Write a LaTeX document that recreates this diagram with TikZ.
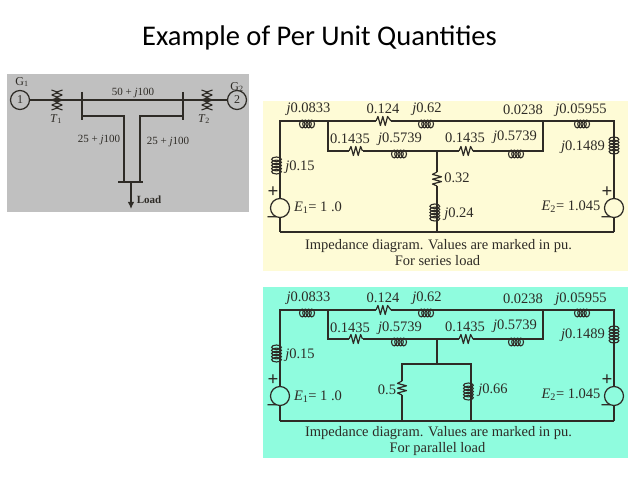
\documentclass[tikz,border=0pt]{standalone}
\usepackage{fontspec}
\setmainfont{Liberation Serif}
\newfontfamily\titlefont{Carlito}
\usetikzlibrary{arrows.meta}
\definecolor{paneyellow}{HTML}{FEFBD6}
\definecolor{paneteal}{HTML}{8FFCDE}
\definecolor{panegrey}{HTML}{C0C0C0}
\definecolor{ink}{HTML}{2E2B26}
\tikzset{
  wire/.style={draw=ink,line width=1.2pt},
  lab/.style={inner sep=0pt,text=ink,font=\fontsize{14.5}{16}\selectfont},
  smalllab/.style={inner sep=0pt,text=ink,font=\fontsize{11}{12}\selectfont},
  biglab/.style={inner sep=0pt,text=ink,font=\fontsize{12}{13}\selectfont},
  sign/.style={inner sep=0pt,text=ink,font=\fontsize{19}{20}\selectfont\bfseries},
  src/.style={circle,draw=ink,line width=1.25pt,minimum size=19pt,inner sep=0pt},
  gen/.style={circle,draw=ink,line width=1.25pt,minimum size=19pt,inner sep=0pt,text=ink,font=\fontsize{12}{13}\selectfont},
  busbar/.style={draw=ink,line width=1.8pt},
  % inductor: loops hung from the wire; the argument shifts the loops sideways
  pics/coilpart/.style={code={
    \draw[draw=ink,line width=1.1pt] (0,0) -- (16,0);
    \foreach \cx in {3.2,6.4,9.6,12.8}{
      \draw[draw=ink,line width=1.1pt] (\cx,#1) ellipse [x radius=2.7,y radius=3.9];
    }
  }},
  pics/coilupright/.style={code={
    \draw[draw=ink,line width=1.1pt] (0,0) -- (17,0);
    \foreach \cx in {2.3,5.4,8.5,11.6,14.7}{
      \draw[draw=ink,line width=1.1pt] (\cx,#1) ellipse [x radius=2.3,y radius=4.9];
    }
  }},
  pics/respart/.style={code={
    \draw[draw=ink,line width=1.2pt,line join=round] (0,0) -- (2,-4.5) -- (4.4,4.5) -- (6.8,-4.5) -- (9.2,4.5) -- (11.6,-4.5) -- (#1,0);
  }},
  pics/xfmr/.style={code={
    \foreach \s in {-1,1}{
      \draw[draw=ink,line width=1.1pt,rounded corners=0.8pt]
        (-5.5*\s,-10) -- (1.5*\s,-7.5) -- (-5.5*\s,-5) -- (1.5*\s,-2.5) -- (-5.5*\s,0) -- (1.5*\s,2.5) -- (-5.5*\s,5) -- (1.5*\s,7.5) -- (-5.5*\s,10);
    }
  }},
}
\newcommand{\cktlabel}[3]{\node[lab] (#1) at (#2) {#3};}
\begin{document}
\begin{tikzpicture}[x=1pt,y=-1pt]
\useasboundingbox (0,0) rectangle (638,478);
\node[inner sep=0pt,text=black,font=\titlefont\fontsize{28.5}{30}\selectfont] (title) at (319.5,38) {Example of Per Unit Quantities};

% ---------- one-line diagram ----------
\fill[panegrey] (7,74) rectangle (249,212);
\node[gen] (g1) at (20,100) {1};
\node[gen] (g2) at (237,100) {2};
\coordinate (t1c) at (57,100); \coordinate (t2c) at (207,100);
\coordinate (b1t) at (82,92); \coordinate (b1b) at (82,120);
\coordinate (b2t) at (183,92); \coordinate (b2b) at (183,120);
\coordinate (b1m) at (82,100); \coordinate (b2m) at (183,100);
\coordinate (b1l) at (82,116); \coordinate (b2l) at (183,116);
\coordinate (sl) at (124,116); \coordinate (sr) at (140,116);
\coordinate (ll) at (118,182); \coordinate (lr) at (143,182);
\coordinate (slb) at (124,182); \coordinate (srb) at (140,182);
\coordinate (lm) at (131,182); \coordinate (lend) at (131,209);
\draw[wire] (g1) -- (t1c);
\draw[wire] (g2) -- (t2c);
\draw[wire] (t1c) -- (b1m) -- (b2m) -- (t2c);
\pic at (t1c) {xfmr};
\pic at (t2c) {xfmr};
\draw[busbar] (b1t) -- (b1b);
\draw[busbar] (b2t) -- (b2b);
\draw[wire] (b1l) -- (sl) -- (slb);
\draw[wire] (b2l) -- (sr) -- (srb);
\draw[busbar,line width=2.2pt] (ll) -- (lr);
\draw[wire,-{Latex[length=7pt,width=6.5pt]}] (lm) -- (lend);
\node[biglab] (lg1) at (22,82) {G\textsubscript{1}};
\node[biglab] (lg2) at (237,87) {G\textsubscript{2}};
\node[biglab] (lt1) at (56,119) {\textit{T}\textsubscript{1}};
\node[biglab] (lt2) at (204,119) {\textit{T}\textsubscript{2}};
\node[smalllab] (l50) at (133,93) {50 + \textit{j}100};
\node[smalllab] (l25a) at (99,140) {25 + \textit{j}100};
\node[smalllab] (l25b) at (168,142) {25 + \textit{j}100};
\node[smalllab,font=\fontsize{11}{12}\selectfont\bfseries] (lload) at (149,200) {Load};

% ---------- series-load panel ----------
\fill[paneyellow] (263,101) rectangle (628,271);
\node[src] (e1) at (280,208) {};
\node[src] (e2) at (614,208) {};
\coordinate (atl) at (280,121); \coordinate (atr) at (614,121);
\coordinate (abl) at (280,232); \coordinate (abr) at (614,232);
\coordinate (ajl) at (328,121); \coordinate (ajr) at (543,121);
\coordinate (ail) at (328,151); \coordinate (air) at (543,151);
\coordinate (aic) at (437,151); \coordinate (abc) at (437,232);
\draw[wire] (abl) -- (abr);
\draw[wire] (e1) -- (abl); \draw[wire] (e2) -- (abr);
\draw[wire] (e1) -- (atl) -- (376,121);
\draw[wire] (391,121) -- (atr) -- (e2);
\pic[rotate=90] at (280,174) {coilupright=-3.5};
\pic at (299,121) {coilpart=3};
\pic at (376,121) {respart=15};
\pic at (418,121) {coilpart=3};
\pic at (574,121) {coilpart=3};
\pic[rotate=90] at (614,154) {coilupright=0};
\draw[wire] (ajl) -- (ail) -- (349,151);
\pic at (349,151) {respart=13.5};
\draw[wire] (362.5,151) -- (459,151);
\pic at (391,151) {coilpart=3};
\pic at (459,151) {respart=14};
\draw[wire] (473,151) -- (air) -- (ajr);
\pic at (508,151) {coilpart=3};
\draw[wire] (aic) -- (437,172);
\pic[rotate=90] at (437,186) {respart=14};
\draw[wire] (437,186) -- (abc);
\pic[rotate=90] at (437,221) {coilupright=-2.2};
\cktlabel{a1}{308.5,109}{\textit{j}0.0833}
\cktlabel{a2}{383,109}{0.124}
\cktlabel{a3}{427,109}{\textit{j}0.62}
\cktlabel{a4}{350,139}{0.1435}
\cktlabel{a5}{400,139}{\textit{j}0.5739}
\cktlabel{a6}{300,167}{\textit{j}0.15}
\cktlabel{a7}{318,208}{\textit{E}\textsubscript{1}= 1 .0}
\cktlabel{a8}{457,178}{0.32}
\cktlabel{a9}{459,214}{\textit{j}0.24}
\cktlabel{a10}{523,110}{0.0238}
\cktlabel{a11}{581,110}{\textit{j}0.05955}
\cktlabel{a12}{465,138}{0.1435}
\cktlabel{a13}{515,137}{\textit{j}0.5739}
\cktlabel{a14}{583,147}{\textit{j}0.1489}
\cktlabel{a15}{571,207}{\textit{E}\textsubscript{2}= 1.045}
\cktlabel{a16}{438.5,246}{Impedance diagram. Values are marked in pu.}
\cktlabel{a17}{437.5,261}{For series load}
\node[sign] (ap1) at (273,192) {+};
\node[sign] (am1) at (272,220) {−};
\node[sign] (ap2) at (607,192) {+};
\node[sign] (am2) at (606,220) {−};

% ---------- parallel-load panel ----------
\fill[paneteal] (263,287) rectangle (628,458);
\node[src] (f1) at (280,396) {};
\node[src] (f2) at (614,396) {};
\coordinate (btl) at (280,310); \coordinate (btr) at (614,310);
\coordinate (bbl) at (280,421); \coordinate (bbr) at (614,421);
\coordinate (bjl) at (328,310); \coordinate (bjr) at (543,310);
\coordinate (bil) at (328,339); \coordinate (bir) at (543,339);
\coordinate (bic) at (437,339); \coordinate (bmc) at (437,364);
\coordinate (bml) at (402,364); \coordinate (bmr) at (471,364);
\coordinate (bdl) at (402,421); \coordinate (bdr) at (471,421);
\draw[wire] (bbl) -- (bbr);
\draw[wire] (f1) -- (bbl); \draw[wire] (f2) -- (bbr);
\draw[wire] (f1) -- (btl) -- (376,310);
\draw[wire] (391,310) -- (btr) -- (f2);
\pic[rotate=90] at (280,362) {coilupright=-3.5};
\pic at (299,310) {coilpart=3};
\pic at (376,310) {respart=15};
\pic at (418,310) {coilpart=3};
\pic at (574,310) {coilpart=3};
\pic[rotate=90] at (614,343) {coilupright=0};
\draw[wire] (bjl) -- (bil) -- (349,339);
\pic at (349,339) {respart=13.5};
\draw[wire] (362.5,339) -- (459,339);
\pic at (391,339) {coilpart=3};
\pic at (459,339) {respart=14};
\draw[wire] (473,339) -- (bir) -- (bjr);
\pic at (508,339) {coilpart=3};
\draw[wire] (bic) -- (bmc);
\draw[wire] (bdl) -- (402,395);
\pic[rotate=90] at (402,395) {respart=14};
\draw[wire] (402,381) -- (bml) -- (bmr) -- (bdr);
\pic[rotate=90] at (471,400) {coilupright=-2.6};
\cktlabel{b1}{308.5,298}{\textit{j}0.0833}
\cktlabel{b2}{383,298}{0.124}
\cktlabel{b3}{427,298}{\textit{j}0.62}
\cktlabel{b4}{350,328}{0.1435}
\cktlabel{b5}{400,328}{\textit{j}0.5739}
\cktlabel{b6}{300,355}{\textit{j}0.15}
\cktlabel{b7}{318,397}{\textit{E}\textsubscript{1}= 1 .0}
\cktlabel{b8}{387,390}{0.5}
\cktlabel{b9}{493,390}{\textit{j}0.66}
\cktlabel{b10}{523,299}{0.0238}
\cktlabel{b11}{581,299}{\textit{j}0.05955}
\cktlabel{b12}{465,327}{0.1435}
\cktlabel{b13}{515,326}{\textit{j}0.5739}
\cktlabel{b14}{583,335}{\textit{j}0.1489}
\cktlabel{b15}{571,395}{\textit{E}\textsubscript{2}= 1.045}
\cktlabel{b16}{438.5,433}{Impedance diagram. Values are marked in pu.}
\cktlabel{b17}{437.5,449}{For parallel load}
\node[sign] (bp1) at (273,380) {+};
\node[sign] (bm1) at (272,408) {−};
\node[sign] (bp2) at (607,380) {+};
\node[sign] (bm2) at (606,408) {−};
\end{tikzpicture}
\end{document}
